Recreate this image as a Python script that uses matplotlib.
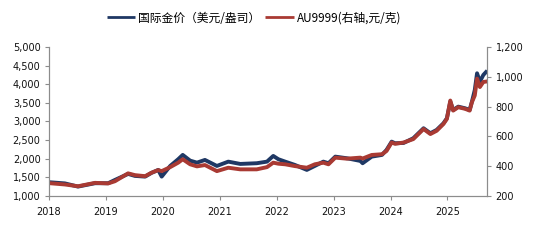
import matplotlib
matplotlib.use("Agg")
import matplotlib.pyplot as plt
from matplotlib.ticker import FuncFormatter

plt.rcParams['font.family'] = ['DejaVu Sans', 'Noto Sans CJK SC']

# time position (year, as laid out on the chart's axis)
t = [2018.00, 2018.28, 2018.51, 2018.81, 2019.04, 2019.16, 2019.39, 2019.51,
     2019.69, 2019.80, 2019.92, 2019.98, 2020.13, 2020.27, 2020.35, 2020.48,
     2020.60, 2020.74, 2020.95, 2021.15, 2021.36, 2021.65, 2021.83, 2021.94,
     2022.03, 2022.15, 2022.32, 2022.53, 2022.67, 2022.82, 2022.91, 2023.03,
     2023.23, 2023.47, 2023.51, 2023.67, 2023.85, 2023.93, 2024.02, 2024.08,
     2024.23, 2024.40, 2024.58, 2024.70, 2024.81, 2024.93, 2024.99, 2025.05,
     2025.10, 2025.19, 2025.31, 2025.39, 2025.43, 2025.48, 2025.52, 2025.57,
     2025.63, 2025.70]

# international gold, USD/oz (left axis)
gold_usd = [1361, 1329, 1243, 1334, 1334, 1423, 1585, 1531,
            1512, 1612, 1693, 1512, 1800, 1981, 2097, 1943,
            1889, 1962, 1800, 1916, 1854, 1873, 1916, 2070,
            1981, 1916, 1827, 1693, 1800, 1916, 1873, 2051,
            2008, 1935, 1873, 2051, 2097, 2232, 2455, 2412,
            2420, 2547, 2816, 2682, 2771, 2951, 3086, 3533,
            3310, 3399, 3355, 3310, 3533, 3849, 4299, 4072,
            4253, 4369]

# AU9999, CNY/g (right axis)
au9999 = [284, 275, 263, 286, 282, 297, 350, 338,
          331, 354, 372, 365, 392, 422, 445, 411,
          397, 406, 365, 388, 377, 377, 392, 422,
          415, 411, 399, 388, 411, 422, 411, 456,
          449, 456, 450, 474, 479, 501, 558, 549,
          558, 581, 649, 615, 637, 683, 717, 841,
          773, 796, 785, 773, 830, 875, 989, 932,
          966, 970]

year_ticks = [2018, 2019, 2020, 2021, 2022, 2023, 2024, 2025]
left_ticks = [1000, 1500, 2000, 2500, 3000, 3500, 4000, 4500, 5000]
right_ticks = [200, 400, 600, 800, 1000, 1200]

navy = '#1f3864'
red = '#a93a33'
grey = '#8c8c8c'

fig = plt.figure(figsize=(5.5, 2.4), dpi=100)
ax = fig.add_axes([0.089, 0.185, 0.797, 0.618])
ax2 = ax.twinx()

l1, = ax.plot(t, gold_usd, color=navy, lw=2.8, solid_capstyle='butt',
              label='国际金价（美元/盎司）')
l2, = ax2.plot(t, au9999, color=red, lw=2.8, solid_capstyle='butt',
               label='AU9999(右轴,元/克)')

ax.set_xlim(2018, 2025.7)
ax.set_ylim(1000, 5000)
ax2.set_ylim(200, 1200)
ax.set_xticks(year_ticks)
ax.set_xticklabels([str(y) for y in year_ticks])
ax.set_yticks(left_ticks)
ax2.set_yticks(right_ticks)
fmt = FuncFormatter(lambda v, p: f'{int(v):,}')
ax.yaxis.set_major_formatter(fmt)
ax2.yaxis.set_major_formatter(fmt)

for a in (ax, ax2):
    a.spines['top'].set_visible(False)
    for s in a.spines.values():
        s.set_color(grey)
        s.set_linewidth(0.8)
    a.tick_params(colors=grey, labelcolor='#111111', labelsize=7, length=3,
                  width=0.8, direction='out')
ax.tick_params(axis='x', pad=5)
ax.tick_params(axis='y', pad=3)
ax2.tick_params(axis='y', pad=3)

leg = fig.legend(handles=[l1, l2], loc='center', bbox_to_anchor=(0.462, 0.925),
                 ncol=2, frameon=False, handlelength=2.4, handletextpad=0.3,
                 columnspacing=0.4,
                 prop={'family': ['Noto Sans CJK SC', 'DejaVu Sans'], 'size': 8.5})
for h in leg.legend_handles:
    h.set_linewidth(2.0)

fig.savefig('out.png', dpi=100, facecolor='white')
